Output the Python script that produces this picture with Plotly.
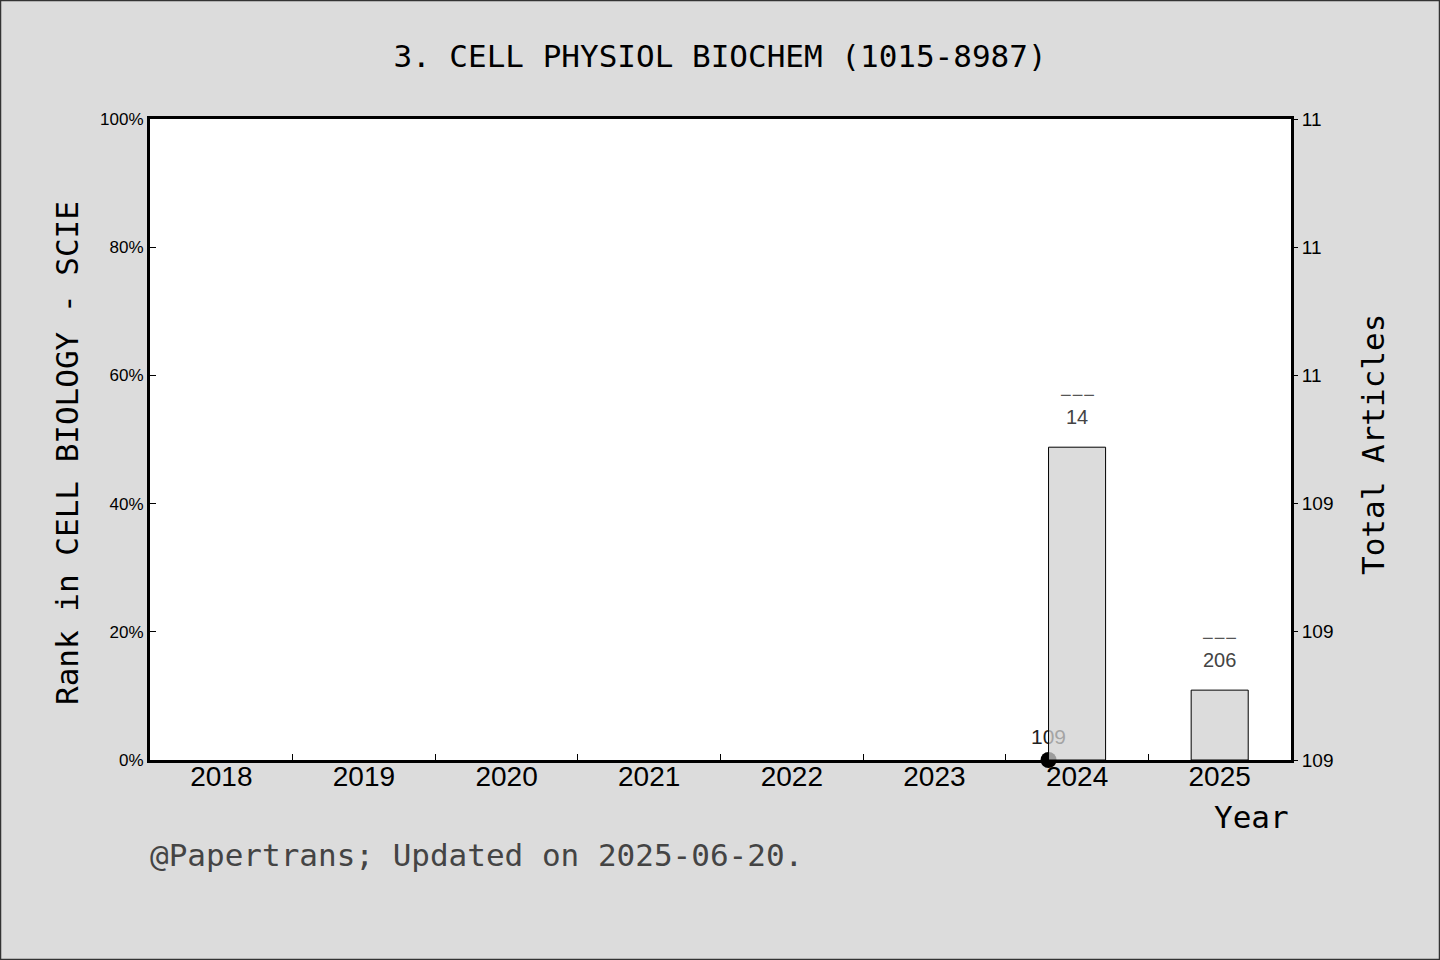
import plotly.graph_objects as go

# ---- data ----
years = ["2018", "2019", "2020", "2021", "2022", "2023", "2024", "2025"]
rank_years = ["2024", "2025"]
rank_pct = [48.8, 10.9]
rank_labels = ["14", "206"]
article_years = ["2024"]
article_counts = [109]
right_tickvals = [109.0, 109.2, 109.4, 109.6, 109.8, 110.0]
right_ticktext = ["109", "109", "109", "11", "11", "11"]
left_tickvals = [0, 20, 40, 60, 80, 100]
left_ticktext = [f"{v}%" for v in left_tickvals]

W, H = 1440, 960
L, R, T, B = 150, 149, 119, 200
PW, PH = W - L - R, H - T - B

def px(x):
    return (x - L) / PW

def py(y):
    return (H - B - y) / PH

MONO = "DejaVu Sans Mono"
SANS = "Liberation Sans"
BAR_W = 0.4

idx = {y: i for i, y in enumerate(years)}
bar_x = [idx[y] for y in rank_years]
pt_x = [idx[y] - BAR_W / 2 for y in article_years]

fig = go.Figure()

# total articles (right axis) -- drawn first, underneath the bars
fig.add_trace(go.Scatter(
    x=pt_x, y=article_counts, yaxis="y", mode="markers+text",
    marker=dict(color="black", size=16),
    text=[str(v) for v in article_counts], textposition="top center",
    textfont=dict(family=SANS, size=21, color="#222222"),
    showlegend=False, hoverinfo="skip", cliponaxis=False,
))

# rank percentage (left axis) -- semi-transparent bars on top
fig.add_trace(go.Bar(
    x=bar_x, y=rank_pct, yaxis="y2", width=BAR_W,
    marker=dict(color="rgba(208,208,208,0.75)", line=dict(color="black", width=1)),
    cliponaxis=False, showlegend=False, hoverinfo="skip",
))

# labels above the bars
for xv, yv, lab in zip(bar_x, rank_pct, rank_labels):
    fig.add_annotation(x=xv, y=yv, xref="x", yref="y2", text=lab, showarrow=False,
                       xanchor="center", yanchor="middle", yshift=30,
                       font=dict(family=SANS, size=20, color="#444444"))
    fig.add_annotation(x=xv, y=yv, xref="x", yref="y2", text="\u2212\u2212\u2212",
                       showarrow=False, xanchor="center", yanchor="middle", yshift=52,
                       font=dict(family=SANS, size=20, color="#555555"))

fig.update_layout(
    width=W, height=H,
    margin=dict(l=L, r=R, t=T, b=B, pad=0),
    paper_bgcolor="#dcdcdc", plot_bgcolor="white",
    title=dict(text="3. CELL PHYSIOL BIOCHEM (1015-8987)", x=0.5, xanchor="center",
               xref="container", y=1 - 56 / H, yref="container", yanchor="middle",
               font=dict(family=MONO, size=31, color="black")),
    xaxis=dict(range=[-0.5, len(years) - 0.5], tickvals=list(range(len(years))),
               ticktext=years, ticks="", showgrid=False, zeroline=False,
               showline=True, linecolor="black", linewidth=3, mirror=True,
               ticklabelstandoff=-11,
               tickfont=dict(family=SANS, size=28, color="black"),
               minor=dict(tickvals=[i + 0.5 for i in range(len(years) - 1)],
                          ticks="inside", ticklen=6, tickwidth=1, tickcolor="black",
                          showgrid=False)),
    yaxis=dict(side="right", range=[109, 110],
               tickvals=right_tickvals, ticktext=right_ticktext,
               ticks="outside", ticklen=4, tickwidth=1, tickcolor="black",
               showgrid=False, zeroline=False,
               showline=True, linecolor="black", linewidth=3,
               tickfont=dict(family=SANS, size=19, color="black")),
    yaxis2=dict(overlaying="y", side="left", range=[0, 100],
                tickvals=left_tickvals, ticktext=left_ticktext,
                ticks="inside", ticklen=6, tickwidth=1, tickcolor="black",
                showgrid=False, zeroline=False,
                showline=True, linecolor="black", linewidth=3,
                tickfont=dict(family=SANS, size=17, color="black")),
    bargap=0.6,
)

fig.add_annotation(text="Rank in CELL BIOLOGY - SCIE", xref="paper", yref="paper",
                   x=px(67), y=py(453), xanchor="center", yanchor="middle",
                   textangle=-90, showarrow=False,
                   font=dict(family=MONO, size=31, color="black"))
fig.add_annotation(text="Total Articles", xref="paper", yref="paper",
                   x=px(1373), y=py(445), xanchor="center", yanchor="middle",
                   textangle=-90, showarrow=False,
                   font=dict(family=MONO, size=31, color="black"))
fig.add_annotation(text="Year", xref="paper", yref="paper",
                   x=px(1291), y=py(817), xanchor="right", yanchor="middle", showarrow=False,
                   font=dict(family=MONO, size=31, color="black"))
fig.add_annotation(text="@Papertrans; Updated on 2025-06-20.", xref="paper", yref="paper",
                   x=px(148), y=py(855), xanchor="left", yanchor="middle", showarrow=False,
                   font=dict(family=MONO, size=31, color="#444444"))

fig.add_shape(type="rect", xref="paper", yref="paper",
              x0=px(0.5), x1=px(W - 0.5), y0=py(H - 0.5), y1=py(0.5),
              line=dict(color="#333333", width=1.5), layer="below")

fig.write_html("out.html", config={"displayModeBar": False},
               post_script="document.body.style.margin='0';")
